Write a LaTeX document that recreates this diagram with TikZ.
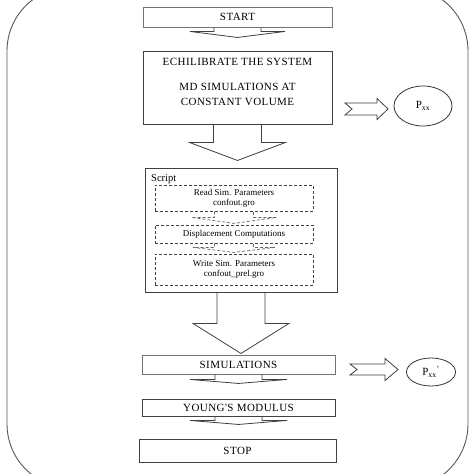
\documentclass[tikz,border=0pt]{standalone}
\usepackage{fontspec}
\setmainfont{Liberation Serif}
\newfontfamily\capsfont[LetterSpace=4]{Liberation Serif}
\usetikzlibrary{calc,shapes.geometric}
\tikzset{
  box/.style={draw=black!75, line width=0.9pt, inner sep=0pt},
  lightbox/.style={draw=black!55, line width=0.9pt, inner sep=0pt},
  dbox/.style={draw=black!75, line width=0.8pt, dash pattern=on 3pt off 2pt, inner sep=0pt},
  arrline/.style={draw=black!75, line width=0.8pt, line join=miter},
  darrline/.style={draw=black!60, line width=0.7pt, dash pattern=on 3pt off 2pt},
  caps/.style={font=\capsfont\fontsize{11}{15}\selectfont, align=center, inner sep=0pt},
  smalltxt/.style={font=\fontsize{9}{10}\selectfont, align=center, inner sep=0pt},
  oval/.style={draw=black!80, line width=0.8pt, ellipse, inner sep=0pt, font=\fontsize{11}{13}\selectfont}
}
\newcommand\downblock[6][arrline]{%
  \draw[#1] let \p1=(#2.south) in
    (\x1-#3,\y1) -- (\x1-#3,\y1-#5) -- (\x1-#4,\y1-#5) -- (\x1,\y1-#5-#6)
    -- (\x1+#4,\y1-#5) -- (\x1+#3,\y1-#5) -- (\x1+#3,\y1);}
\begin{document}
\begin{tikzpicture}[x=1pt,y=-1pt]
\useasboundingbox (0,0) rectangle (474,474);
\clip (0,0) rectangle (474,474);
\fill[white] (0,0) rectangle (474,474);
% outer frame
\draw[black!65, line width=0.9pt, rounded corners=64pt] (7,-13) rectangle (468,488);

% main boxes
\node[lightbox, minimum width=189pt, minimum height=20pt, caps] (start) at (237.5,17) {START};
\node[box, minimum width=189pt, minimum height=73pt] (echil) at (237.5,87.5) {};
\node[caps] (echilA) at (237.5,62) {ECHILIBRATE THE SYSTEM};
\node[caps] (echilB) at (237.5,94.5) {MD SIMULATIONS AT\\CONSTANT VOLUME};

\node[box, minimum width=192pt, minimum height=124pt] (script) at (241,230) {};
\node[font=\fontsize{10.5}{12}\selectfont, anchor=west, inner sep=0pt] (scriptlbl) at (151,179) {Script};
\node[dbox, minimum width=158pt, minimum height=26pt, smalltxt] (d1) at (234,198) {Read Sim. Parameters\\confout.gro};
\node[dbox, minimum width=158pt, minimum height=18pt, smalltxt] (d2) at (234,234) {Displacement Computations};
\node[dbox, minimum width=158pt, minimum height=31pt, smalltxt] (d3) at (234,269.5) {Write Sim. Parameters\\confout\_prel.gro};

\node[lightbox, minimum width=193pt, minimum height=19pt, caps] (sim) at (238.5,364.5) {SIMULATIONS};
\node[box, minimum width=193pt, minimum height=17pt, caps] (young) at (238.5,407.5) {YOUNG'S MODULUS};
\node[box, minimum width=197pt, minimum height=23pt, caps] (stop) at (237.5,450.5) {STOP};

% ovals
\node[oval, minimum width=58pt, minimum height=40pt] (pxx) at (423,106) {P\textsubscript{xx}};
\node[oval, minimum width=49pt, minimum height=28pt] (pxxb) at (431,372) {P\textsubscript{xx}\textsuperscript{'}};

% down block arrows
\downblock{start}{23.5pt}{47.5pt}{4pt}{6pt}
\downblock{echil}{24pt}{48pt}{18pt}{18pt}
\downblock[darrline]{d1}{19.5pt}{42.5pt}{6pt}{6pt}
\downblock[darrline]{d2}{19.5pt}{41pt}{4pt}{5pt}
\downblock{script}{24pt}{48pt}{31pt}{30pt}
\downblock{sim}{23.5pt}{48.5pt}{5pt}{4pt}
\downblock{young}{23.5pt}{48.5pt}{4pt}{4pt}

% side block arrows
\coordinate (tipA) at (388,109);
\draw[arrline] (tipA) -- (377,98.5) -- (377,103) -- (345,103) -- (352,109)
  -- (345,115) -- (377,115) -- (377,119.5) -- cycle;
\coordinate (tipB) at (398,369.5);
\draw[arrline] (tipB) -- (385,358.5) -- (385,364) -- (350,364) -- (357,369.5)
  -- (350,375) -- (385,375) -- (385,380.5) -- cycle;
\end{tikzpicture}
\end{document}
